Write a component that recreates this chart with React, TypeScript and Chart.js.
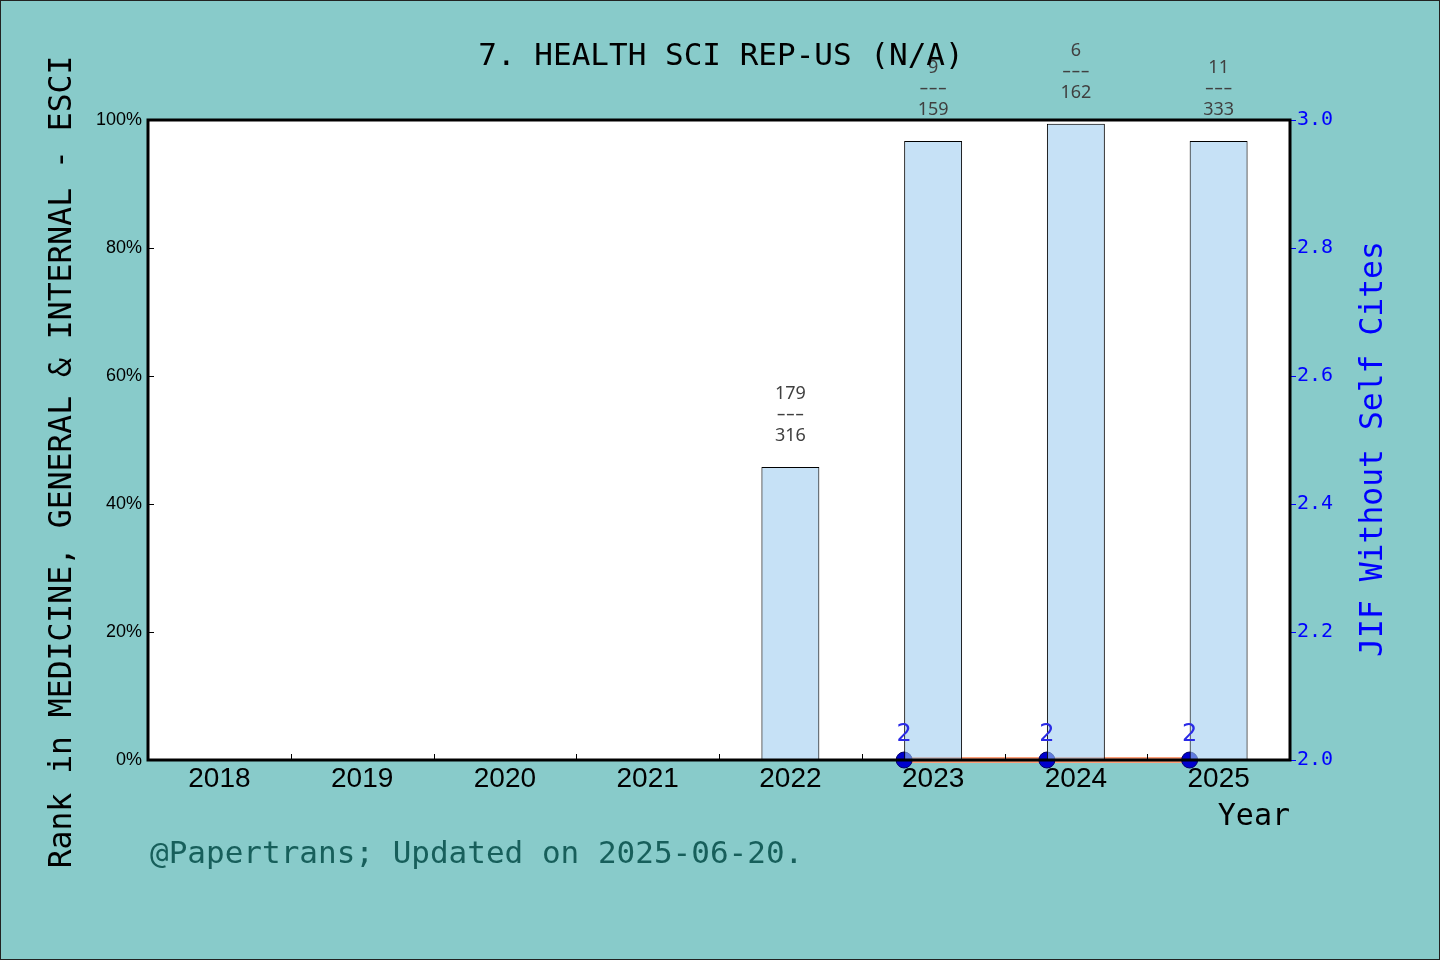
import React, { useEffect, useRef } from "react";
import { Chart, registerables } from "chart.js";

Chart.register(...registerables);

// ---- data ----
const YEARS = ["2018", "2019", "2020", "2021", "2022", "2023", "2024", "2025"];
const RANK_PCT: (number | null)[] = [null, null, null, null, 45.8, 96.7, 99.4, 96.7];
const RANK_POS: (string | null)[] = [null, null, null, null, "179", "9", "6", "11"];
const CAT_SIZE: (string | null)[] = [null, null, null, null, "316", "159", "162", "333"];
const JIF_YEARS = ["2023", "2024", "2025"];
const JIF_VALUES = [2, 2, 2];
const JIF_LABELS = ["2", "2", "2"];
const Y_TICKS = [0, 20, 40, 60, 80, 100];
const Y1_TICKS = [2.0, 2.2, 2.4, 2.6, 2.8, 3.0];

const TITLE = "7. HEALTH SCI REP-US (N/A)";
const Y_TITLE = "Rank in MEDICINE, GENERAL & INTERNAL - ESCI";
const Y1_TITLE = "JIF Without Self Cites";
const X_TITLE = "Year";
const FOOTER = "@Papertrans; Updated on 2025-06-20.";

// ---- style ----
const BG = "#88cbca";
const MONO = "'DejaVu Sans Mono', monospace";
const SANS = "'Liberation Sans', Arial, sans-serif";
const BAR_FRAC = 0.406;
const POINT_SHIFT = BAR_FRAC / 2;

const decorPlugin = {
  id: "decor",
  beforeDraw(chart: any) {
    const { ctx, width, height, chartArea: a } = chart;
    ctx.save();
    ctx.fillStyle = BG;
    ctx.fillRect(0, 0, width, height);
    ctx.strokeStyle = "#222";
    ctx.lineWidth = 2;
    ctx.strokeRect(0, 0, width, height);
    ctx.fillStyle = "#ffffff";
    ctx.fillRect(a.left, a.top, a.right - a.left, a.bottom - a.top);
    ctx.restore();
  },
  afterDatasetsDraw(chart: any) {
    const { ctx, chartArea: a, scales } = chart;
    ctx.save();
    // left ticks (inward)
    ctx.strokeStyle = "#000";
    ctx.lineWidth = 1;
    Y_TICKS.forEach((v) => {
      const y = Math.round(scales.y.getPixelForValue(v)) + 0.5;
      ctx.beginPath();
      ctx.moveTo(a.left, y);
      ctx.lineTo(a.left + 6, y);
      ctx.stroke();
    });
    // x minor ticks at category boundaries (inward)
    for (let i = 1; i < YEARS.length; i++) {
      const x =
        Math.round((scales.x.getPixelForValue(i - 1) + scales.x.getPixelForValue(i)) / 2) + 0.5;
      ctx.beginPath();
      ctx.moveTo(x, a.bottom);
      ctx.lineTo(x, a.bottom - 6);
      ctx.stroke();
    }
    // right ticks (outward, blue)
    ctx.strokeStyle = "#0000ff";
    Y1_TICKS.forEach((v) => {
      const y = Math.round(scales.y1.getPixelForValue(v)) + 0.5;
      ctx.beginPath();
      ctx.moveTo(a.right, y);
      ctx.lineTo(a.right + 6, y);
      ctx.stroke();
    });
    // frame
    ctx.strokeStyle = "#000";
    ctx.lineWidth = 3;
    ctx.strokeRect(a.left, a.top, a.right - a.left, a.bottom - a.top);

    // bar annotations
    const barMeta = chart.getDatasetMeta(0);
    ctx.fillStyle = "#404040";
    ctx.font = "18px 'Noto Sans', 'DejaVu Sans', sans-serif";
    ctx.textAlign = "center";
    ctx.textBaseline = "middle";
    barMeta.data.forEach((el: any, i: number) => {
      if (RANK_PCT[i] == null) return;
      const x = el.x;
      const y = el.y;
      ctx.fillText(String(RANK_POS[i]), x, y - 73);
      ctx.save();
      ctx.translate(x, y - 52);
      ctx.scale(1.6, 1);
      ctx.fillText("---", 0, 0);
      ctx.restore();
      ctx.fillText(String(CAT_SIZE[i]), x, y - 31);
    });

    // JIF labels
    const lineMeta = chart.getDatasetMeta(1);
    ctx.fillStyle = "#2a2ae6";
    ctx.font = "24px 'DejaVu Sans', sans-serif";
    lineMeta.data.forEach((el: any, i: number) => {
      ctx.fillText(JIF_LABELS[i], el.x, el.y - 25);
    });

    // texts
    ctx.fillStyle = "#000";
    ctx.font = `31px ${MONO}`;
    ctx.textAlign = "center";
    ctx.fillText(TITLE, (a.left + a.right) / 2 + 2, 57);

    ctx.textAlign = "right";
    ctx.font = `30px ${MONO}`;
    ctx.fillText(X_TITLE, a.right, 817);

    ctx.textAlign = "left";
    ctx.fillStyle = "#175f5b";
    ctx.font = `31px ${MONO}`;
    ctx.fillText(FOOTER, 150, 855);

    ctx.save();
    ctx.translate(63, 462);
    ctx.rotate(-Math.PI / 2);
    ctx.textAlign = "center";
    ctx.fillStyle = "#000";
    ctx.font = `31.4px ${MONO}`;
    ctx.fillText(Y_TITLE, 0, 0);
    ctx.restore();

    ctx.save();
    ctx.translate(1374, 449);
    ctx.rotate(-Math.PI / 2);
    ctx.textAlign = "center";
    ctx.fillStyle = "#0000ff";
    ctx.font = `31.4px ${MONO}`;
    ctx.fillText(Y1_TITLE, 0, 0);
    ctx.restore();

    ctx.restore();
  },
};

export default function App() {
  const ref = useRef<HTMLCanvasElement>(null);
  useEffect(() => {
    document.body.style.margin = "0";
    const canvas = ref.current!;
    const chart = new Chart(canvas, {
      type: "bar",
      data: {
        labels: YEARS,
        datasets: [
          {
            type: "bar",
            data: RANK_PCT as any,
            backgroundColor: "rgba(160,205,240,0.6)",
            borderColor: "#000",
            borderWidth: 1,
            grouped: false,
            categoryPercentage: 1,
            barPercentage: BAR_FRAC,
            xAxisID: "x",
            yAxisID: "y",
            order: 0,
          } as any,
          {
            type: "line",
            data: JIF_YEARS.map((yr, i) => ({ x: YEARS.indexOf(yr) - POINT_SHIFT, y: JIF_VALUES[i] })),
            borderColor: "#ffa07a",
            borderWidth: 6,
            pointRadius: 8,
            pointBackgroundColor: "#0000cd",
            pointBorderColor: "#000066",
            pointBorderWidth: 1,
            xAxisID: "xLine",
            yAxisID: "y1",
            clip: false,
            order: 1,
          } as any,
        ],
      },
      options: {
        animation: false,
        responsive: false,
        devicePixelRatio: 1,
        layout: { padding: { top: 120, left: 0, right: 0, bottom: 0 } },
        plugins: { legend: { display: false }, tooltip: { enabled: false }, title: { display: false } },
        scales: {
          x: {
            type: "category",
            offset: true,
            grid: { display: false, drawTicks: false },
            border: { display: false },
            ticks: { font: { family: SANS, size: 28 }, color: "#000", padding: 2, maxRotation: 0 },
            afterFit: (s: any) => {
              s.height = 200;
            },
          },
          xLine: {
            type: "linear",
            display: false,
            offset: false,
            grid: { offset: false },
            min: -0.5,
            max: YEARS.length - 0.5,
          },
          y: {
            position: "left",
            min: 0,
            max: 100,
            grid: { display: false, drawTicks: false },
            border: { display: false },
            afterBuildTicks: (s: any) => {
              s.ticks = Y_TICKS.map((v) => ({ value: v }));
            },
            ticks: {
              font: { family: SANS, size: 18 },
              color: "#000",
              padding: 6,
              callback: (v: any) => `${v}%`,
            },
            afterFit: (s: any) => {
              s.width = 148;
            },
          },
          y1: {
            position: "right",
            min: 2,
            max: 3,
            grid: { display: false, drawTicks: false },
            border: { display: false },
            afterBuildTicks: (s: any) => {
              s.ticks = Y1_TICKS.map((v) => ({ value: v }));
            },
            ticks: {
              font: { family: MONO, size: 20 },
              color: "#0000ff",
              padding: 7,
              callback: (v: any) => Number(v).toFixed(1),
            },
            afterFit: (s: any) => {
              s.width = 150;
            },
          },
        },
      } as any,
      plugins: [decorPlugin],
    });
    return () => chart.destroy();
  }, []);
  return (
    <div style={{ width: 1440, height: 960 }}>
      <canvas ref={ref} width={1440} height={960} style={{ display: "block" }} />
    </div>
  );
}
